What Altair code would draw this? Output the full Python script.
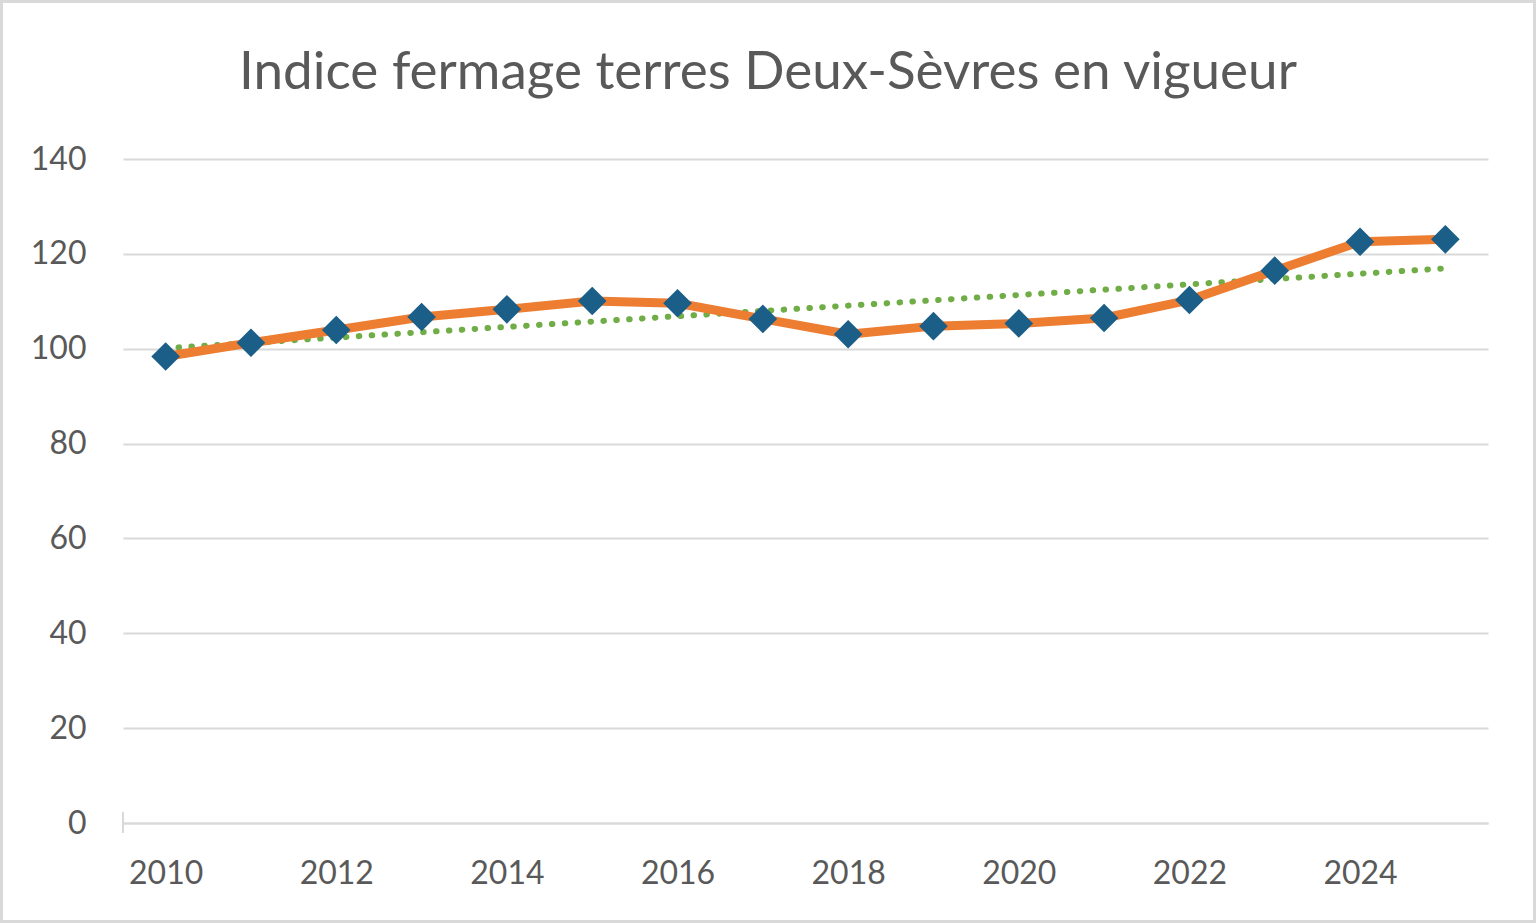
import altair as alt
import pandas as pd

# Indice national des fermages applied in Deux-Sèvres, by year
years = [2010, 2011, 2012, 2013, 2014, 2015, 2016, 2017,
         2018, 2019, 2020, 2021, 2022, 2023, 2024, 2025]
index_values = [98.37, 101.25, 103.95, 106.68, 108.30, 110.05, 109.59, 106.28,
                103.05, 104.76, 105.33, 106.48, 110.26, 116.46, 122.55, 123.06]
y_ticks = [0, 20, 40, 60, 80, 100, 120, 140]
x_ticks = [2010, 2012, 2014, 2016, 2018, 2020, 2022, 2024]
title_text = ["Indice fermage terres Deux-Sèvres en vigueur"]

df = pd.DataFrame({"year": years, "indice": index_values})

TEXT = "#595959"
GRID = "#d9d9d9"
FONT = "Lato"

W, H = 1365, 664

x_enc = alt.X(
    "year:Q",
    scale=alt.Scale(domain=[2009.5, 2025.5], nice=False, zero=False),
    axis=alt.Axis(values=x_ticks, format="d", title=None, grid=False,
                  ticks=False, domain=True, domainColor=GRID, domainWidth=2,
                  labelFontSize=32, labelColor=TEXT, labelFont=FONT,
                  labelPadding=35),
)
y_enc = alt.Y(
    "indice:Q",
    scale=alt.Scale(domain=[0, 140], nice=False),
    axis=alt.Axis(values=y_ticks, title=None, grid=True, gridColor=GRID,
                  gridWidth=2, ticks=False, domain=False,
                  labelFontSize=32, labelColor=TEXT, labelFont=FONT,
                  labelPadding=37),
)

base = alt.Chart(df)

line = base.mark_line(color="#ED7D31", strokeWidth=9, strokeJoin="round").encode(
    x=x_enc, y=y_enc
)

points = base.mark_point(shape="diamond", filled=True, size=820,
                         color="#1B5E88", opacity=1).encode(
    x="year:Q", y="indice:Q"
)

trend = base.transform_regression(
    "year", "indice", extent=[2010, 2025]
).mark_line(color="#70AD47", strokeWidth=6, strokeDash=[0.5, 12.4],
            strokeCap="round").encode(x="year:Q", y="indice:Q")

# short tick at the left end of the category axis
left_tick = alt.Chart(df).mark_rule(color=GRID, strokeWidth=2).encode(
    x=alt.value(0), y=alt.value(H - 11), y2=alt.value(H + 10)
)

# chart title, centred on the whole page
title = alt.Chart(pd.DataFrame({"t": title_text})).mark_text(
    font=FONT, fontSize=53, color=TEXT, align="center", baseline="alphabetic"
).encode(text="t:N", x=alt.value(645), y=alt.value(-70))

# thin frame round the whole chart
frame = alt.Chart(df).mark_rect(fill=None, stroke=GRID, strokeWidth=3).encode(
    x=alt.value(-121.5), x2=alt.value(W + 46.5),
    y=alt.value(-157.5), y2=alt.value(H + 98.5)
)

chart = alt.layer(left_tick, trend, line, points, title, frame).properties(
    width=W,
    height=H,
    padding={"left": 123, "top": 159, "right": 48, "bottom": 100},
    autosize=alt.AutoSizeParams(type="none"),
    background="#ffffff",
).configure_view(stroke=None)

chart.save("out.html", embed_options={"renderer": "svg", "actions": False})
